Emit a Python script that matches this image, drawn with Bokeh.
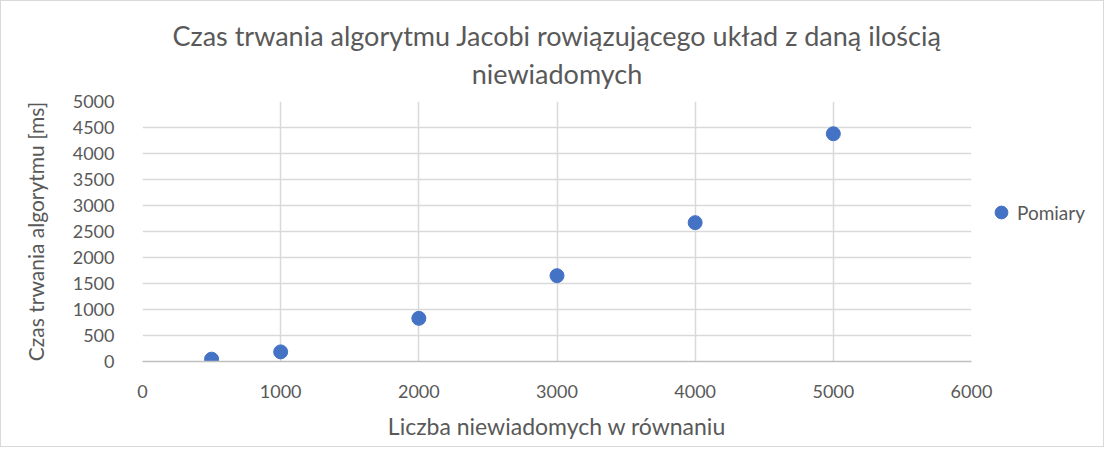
from bokeh.plotting import figure
from bokeh.models import Title, Legend, LegendItem, SingleIntervalTicker, NumeralTickFormatter
from bokeh.embed import file_html
from bokeh.resources import INLINE

# data
n_unknowns = [500, 1000, 2000, 3000, 4000, 5000]
time_ms = [45, 185, 830, 1650, 2670, 4380]
series_name = "Pomiary"
title_line1 = "Czas trwania algorytmu Jacobi rowiązującego układ z daną ilością"
title_line2 = "niewiadomych"
x_label = "Liczba niewiadomych w równaniu"
y_label = "Czas trwania algorytmu [ms]"

FONT = "Lato"
TXT = "#595959"
GRID = "#d9d9d9"

p = figure(frame_width=829, frame_height=260, output_backend="svg", toolbar_location=None,
           x_range=(0, 6000), y_range=(0, 5000),
           min_border_left=141, min_border_right=134, min_border_top=100, min_border_bottom=85,
           background_fill_color="white", border_fill_color="white")
p.styles = {"border": "1px solid #d9d9d9", "width": "1104px", "max-width": "1104px",
            "overflow": "hidden"}
p.outline_line_color = None

p.add_layout(Title(text=title_line2, align="center", text_font=FONT, text_font_size="27px",
                   text_color=TXT, text_font_style="normal", standoff=24), "above")
p.add_layout(Title(text=title_line1, align="center", text_font=FONT, text_font_size="27px",
                   text_color=TXT, text_font_style="normal", standoff=-18), "above")

r = p.scatter(n_unknowns, time_ms, size=14, color="#4472C4", line_color="#4472C4")

p.xaxis.ticker = SingleIntervalTicker(interval=1000)
p.yaxis.ticker = SingleIntervalTicker(interval=500)
for ax in (p.xaxis, p.yaxis):
    ax.major_tick_line_color = None
    ax.minor_tick_line_color = None
    ax.major_label_text_font = FONT
    ax.major_label_text_font_size = "18px"
    ax.major_label_text_color = TXT
    ax.axis_label_text_font = FONT
    ax.axis_label_text_color = TXT
    ax.axis_label_text_font_style = "normal"
    ax.formatter = NumeralTickFormatter(format="0")
p.xaxis.axis_label_text_font_size = "23px"
p.yaxis.axis_label_text_font_size = "21px"
p.xaxis.axis_line_color = "#bfbfbf"
p.xaxis.axis_line_width = 1.5
p.yaxis.axis_line_color = None
p.xaxis.axis_label = x_label
p.yaxis.axis_label = y_label
p.xaxis.major_label_standoff = 17
p.yaxis.major_label_standoff = 22
p.xaxis.axis_label_standoff = 11
p.yaxis.axis_label_standoff = 22

p.xgrid.grid_line_color = GRID
p.ygrid.grid_line_color = GRID
p.xgrid.grid_line_width = 1.5
p.ygrid.grid_line_width = 1.5

legend = Legend(items=[LegendItem(label=series_name, renderers=[r])],
                location="top_left", border_line_color=None, background_fill_alpha=0,
                title=" ", title_text_font_size="10px", title_standoff=70,
                padding=0, margin=14, glyph_width=32, glyph_height=32, label_standoff=-4,
                label_text_font=FONT, label_text_font_size="19px", label_text_color=TXT)
p.add_layout(legend, "right")

open("out.html", "w").write(file_html(p, INLINE))
